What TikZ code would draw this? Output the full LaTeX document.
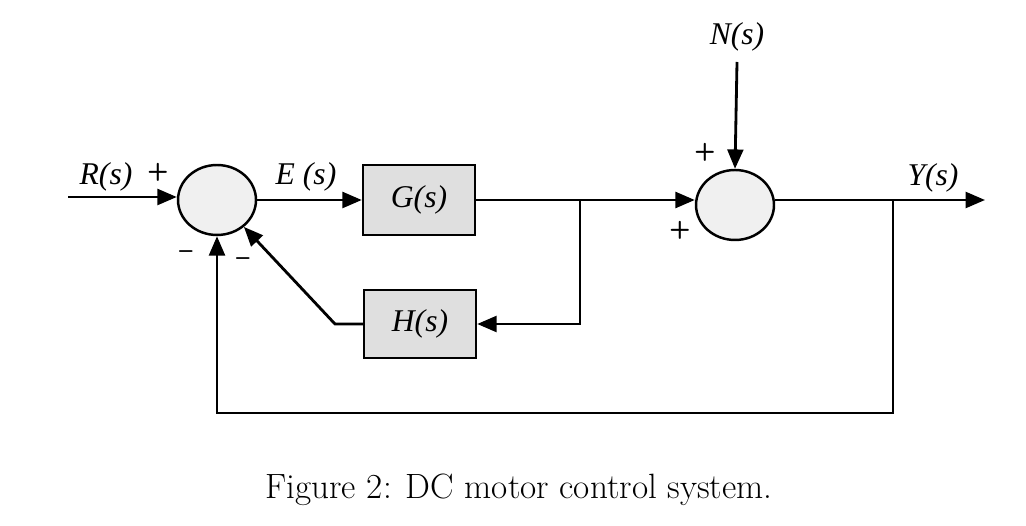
\documentclass[tikz,border=0pt]{standalone}
\usepackage{fontspec}
\newfontfamily\tnr{Liberation Serif}
\usetikzlibrary{arrows.meta,shapes.geometric}
\begin{document}
\begin{tikzpicture}[x=0.02cm,y=-0.02cm,
  ln/.style={line width=1.6pt},
  ar/.style={ln,-{Triangle[length=11pt,width=9pt]}},
  sum/.style={draw,line width=1.4pt,fill=gray!12,ellipse,minimum width=1.56cm,minimum height=1.4cm,inner sep=0pt},
  blk/.style={draw,line width=1.4pt,fill=gray!25,minimum width=2.24cm,minimum height=1.4cm,font=\tnr\fontsize{18}{20}\selectfont\itshape},
  lab/.style={font=\tnr\fontsize{18}{20}\selectfont\itshape},
  sg/.style={font=\sffamily\fontsize{14}{16}\selectfont\bfseries}]
\useasboundingbox (0,0) rectangle (1026,526);
\node[sum] (s1) at (217,200) {};
\node[sum] (s2) at (735,205) {};
\node[blk] (G) at (419,200) {G(s)};
\node[blk,minimum height=1.36cm] (H) at (420,324) {H(s)};
\coordinate (in) at (68,197);
\coordinate (br1) at (580,200);
\coordinate (br1d) at (580,324);
\coordinate (hl) at (335,324);
\coordinate (nin) at (737,62);
\coordinate (out) at (985,200);
\coordinate (br2) at (893,200);
\coordinate (br2d) at (893,413);
\coordinate (bl) at (217,413);
\draw[ar] (in) -- (in -| s1.west);
\draw[ar] (s1.east |- G) -- (G.west);
\draw[ln] (G.east) -- (br1);
\draw[ar] (br1) -- (br1 -| s2.west);
\draw[ar] (br1) -- (br1d) -- (H.east);
\draw[ar] (H.west) -- (hl) -- (s1.-45);
\draw[ar] (nin) -- (s2.north);
\draw[ar] (s2.east |- out) -- (out);
\draw[ar] (br2) -- (br2d) -- (bl) -- (s1.south);
\node[lab] at (106,177) {R(s)};
\node[lab] at (306,177) {E (s)};
\node[lab] at (737,37) {N(s)};
\node[lab] at (933,178) {Y(s)};
\node[sg] at (158,172) {+};
\node[sg] at (705,152) {+};
\node[sg] at (680,230) {+};
\node[sg] at (186,255) {–};
\node[sg] at (243,262) {–};
\node[font=\fontsize{20}{24}\selectfont] at (519,490) {Figure 2: DC motor control system.};
\end{tikzpicture}
\end{document}
